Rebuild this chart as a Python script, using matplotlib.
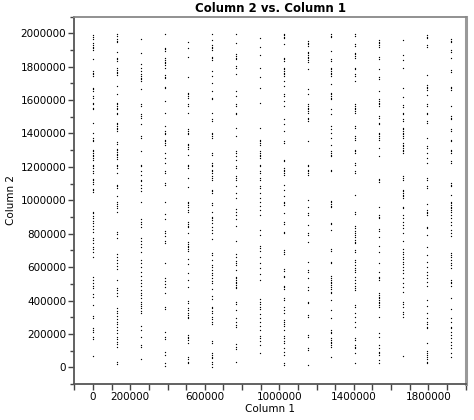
import matplotlib
matplotlib.use("Agg")
import matplotlib.pyplot as plt
from matplotlib.ticker import MultipleLocator, FixedLocator
import numpy as np

# x position of each vertical column of points
col_x = [0, 128000, 256000, 384000, 512000, 640000, 768000, 896000,
         1024000, 1152000, 1280000, 1408000, 1536000, 1664000, 1792000, 1920000]

# y values per column, in thousands
y_c1 = [1990, 1978, 1966, 1940, 1930, 1920, 1910, 1900, 1844, 1774, 1764, 1754, 1744, 1674, 1664, 1654,
        1624, 1614, 1584, 1574, 1554, 1544, 1464, 1404, 1374, 1364, 1354, 1304, 1294, 1284, 1274, 1264,
        1254, 1244, 1214, 1204, 1194, 1174, 1164, 1130, 1120, 1110, 1100, 1070, 1060, 1050, 932, 922,
        908, 892, 876, 862, 846, 831, 812, 776, 762, 746, 722, 708, 692, 659, 542, 523, 507, 487, 473,
        437, 423, 373, 307, 293, 237, 224, 210, 183, 168, 69]
y_c2 = [1994, 1982, 1966, 1956, 1946, 1890, 1854, 1844, 1834, 1790, 1780, 1770, 1760, 1750, 1684, 1634,
        1584, 1574, 1564, 1554, 1544, 1524, 1514, 1464, 1454, 1444, 1434, 1424, 1414, 1350, 1340, 1310,
        1300, 1290, 1280, 1270, 1260, 1250, 1214, 1204, 1194, 1164, 1094, 1084, 1074, 1024, 992, 978,
        966, 953, 927, 810, 798, 774, 677, 663, 643, 627, 609, 590, 524, 474, 460, 444, 424, 354, 340,
        324, 308, 288, 274, 260, 243, 224, 204, 183, 168, 154, 139, 123, 34, 20]
y_c3 = [1966, 1884, 1814, 1794, 1774, 1754, 1744, 1734, 1724, 1714, 1664, 1574, 1564, 1514, 1504, 1494,
        1454, 1384, 1374, 1294, 1214, 1204, 1174, 1154, 1124, 1114, 1094, 1074, 1054, 992, 888, 872,
        858, 838, 772, 756, 738, 722, 692, 643, 623, 603, 573, 547, 523, 503, 487, 463, 447, 433, 413,
        393, 379, 367, 353, 339, 324, 247, 224, 183, 134, 120, 48]
y_c4 = [1996, 1914, 1904, 1894, 1850, 1840, 1830, 1820, 1810, 1790, 1750, 1740, 1730, 1680, 1670, 1594,
        1524, 1444, 1414, 1404, 1394, 1364, 1354, 1344, 1334, 1284, 1254, 1224, 1174, 1164, 1104, 1094,
        988, 918, 888, 818, 802, 788, 758, 742, 623, 533, 517, 499, 479, 447, 363, 347, 213, 183, 168,
        93, 74, 24, 10]
y_c5 = [1950, 1914, 1860, 1740, 1644, 1634, 1624, 1614, 1574, 1564, 1524, 1424, 1414, 1404, 1394, 1340,
        1330, 1320, 1310, 1270, 1214, 1204, 1194, 1134, 1080, 992, 982, 972, 962, 942, 932, 868, 858,
        848, 838, 802, 748, 738, 728, 718, 708, 698, 648, 618, 566, 523, 479, 397, 387, 353, 343, 323,
        313, 303, 293, 193, 183, 174, 164, 144, 60, 50, 34, 24]
y_c6 = [1994, 1960, 1930, 1920, 1910, 1900, 1860, 1850, 1840, 1774, 1744, 1704, 1654, 1614, 1604, 1524,
        1484, 1474, 1404, 1394, 1384, 1374, 1284, 1274, 1224, 1214, 1204, 1184, 1174, 1164, 1144, 1134,
        1124, 1064, 1054, 1044, 982, 972, 932, 902, 892, 882, 862, 842, 822, 802, 766, 683, 673, 643,
        613, 603, 583, 566, 553, 533, 518, 506, 467, 427, 407, 363, 353, 337, 323, 303, 287, 273, 259,
        159, 144, 88, 74, 64, 54, 34, 20, 4]
y_c7 = [1994, 1944, 1874, 1864, 1854, 1844, 1804, 1794, 1754, 1654, 1624, 1574, 1564, 1524, 1514, 1434,
        1384, 1294, 1284, 1264, 1244, 1204, 1194, 1144, 1134, 1124, 1084, 1044, 1014, 946, 932, 912,
        888, 848, 758, 678, 663, 639, 627, 613, 583, 543, 533, 523, 513, 503, 493, 483, 473, 393, 379,
        343, 293, 273, 253, 240, 140, 123, 108, 34]
y_c8 = [1970, 1920, 1870, 1790, 1740, 1670, 1584, 1434, 1364, 1354, 1344, 1334, 1294, 1284, 1274, 1264,
        1254, 1214, 1204, 1174, 1164, 1134, 1124, 1084, 1074, 1044, 1014, 992, 966, 942, 912, 822, 793,
        726, 712, 698, 659, 623, 593, 559, 523, 407, 393, 379, 363, 347, 319, 293, 273, 247, 223, 187,
        174, 159, 134, 84]
y_c9 = [1998, 1988, 1980, 1970, 1934, 1854, 1844, 1834, 1794, 1784, 1774, 1764, 1754, 1744, 1714, 1684,
        1634, 1624, 1594, 1564, 1484, 1454, 1414, 1354, 1344, 1244, 1234, 1194, 1184, 1174, 1164, 1154,
        1094, 1064, 1024, 992, 982, 972, 922, 872, 858, 812, 802, 702, 692, 679, 587, 579, 547, 539,
        487, 479, 467, 413, 403, 363, 343, 327, 283, 273, 259, 247, 223, 187, 174, 159, 144, 114, 93,
        74, 28, 14]
y_c10 = [1954, 1944, 1934, 1924, 1890, 1880, 1870, 1860, 1850, 1840, 1830, 1784, 1664, 1634, 1574, 1564,
         1554, 1544, 1534, 1524, 1494, 1484, 1474, 1354, 1214, 1204, 1184, 1174, 1164, 1154, 1002, 958,
         922, 912, 852, 802, 792, 752, 632, 583, 573, 533, 483, 463, 393, 383, 313, 303, 193, 183, 114,
         104, 14]
y_c11 = [1996, 1986, 1976, 1894, 1844, 1834, 1794, 1784, 1774, 1764, 1754, 1744, 1694, 1644, 1634, 1624,
         1614, 1604, 1544, 1514, 1444, 1424, 1404, 1374, 1334, 1294, 1284, 1274, 1264, 1184, 1174, 998,
         988, 978, 968, 958, 866, 856, 822, 707, 696, 632, 623, 547, 537, 523, 513, 503, 493, 479, 467,
         453, 443, 403, 343, 293, 224, 214, 204, 174, 164, 154, 144, 134, 123, 60]
y_c12 = [1994, 1984, 1934, 1924, 1884, 1874, 1864, 1854, 1794, 1784, 1754, 1744, 1714, 1574, 1564, 1554,
         1544, 1534, 1524, 1444, 1434, 1384, 1374, 1364, 1304, 1294, 1284, 1224, 1214, 1174, 1164, 1034,
         932, 918, 846, 832, 818, 802, 792, 782, 762, 752, 742, 702, 692, 643, 633, 613, 593, 583, 573,
         543, 523, 503, 487, 473, 463, 373, 359, 327, 303, 273, 243, 174, 164, 134, 123, 114, 84, 24]
y_c13 = [1960, 1950, 1940, 1930, 1920, 1856, 1846, 1786, 1736, 1726, 1654, 1604, 1594, 1584, 1574, 1564,
         1504, 1494, 1464, 1454, 1404, 1394, 1384, 1374, 1364, 1314, 1264, 1130, 1120, 1110, 962, 912,
         902, 892, 826, 816, 782, 726, 692, 627, 573, 543, 533, 523, 443, 433, 423, 413, 403, 393, 383,
         373, 363, 303, 204, 180, 134, 114, 93, 84, 74, 44, 24]
y_c14 = [1960, 1870, 1840, 1790, 1670, 1620, 1570, 1560, 1524, 1514, 1484, 1474, 1434, 1424, 1414, 1404,
         1394, 1384, 1374, 1344, 1334, 1324, 1314, 1304, 1294, 1284, 1144, 1134, 1124, 1064, 1054, 1044,
         1034, 1024, 1014, 962, 952, 912, 892, 872, 852, 832, 802, 758, 707, 692, 679, 663, 647, 632,
         619, 603, 583, 563, 533, 507, 479, 453, 393, 379, 363, 333, 319, 303, 68]
y_c15 = [1990, 1980, 1970, 1930, 1920, 1750, 1690, 1680, 1670, 1660, 1630, 1574, 1564, 1524, 1514, 1474,
         1464, 1374, 1324, 1314, 1284, 1254, 1224, 1134, 1124, 1084, 1074, 978, 942, 932, 922, 912, 842,
         832, 793, 722, 673, 632, 603, 573, 553, 533, 513, 487, 403, 367, 323, 293, 273, 259, 243, 233,
         147, 99, 87, 74, 60, 48, 34, 24]
y_c16 = [1966, 1956, 1946, 1900, 1890, 1850, 1780, 1770, 1680, 1670, 1660, 1564, 1504, 1494, 1484, 1424,
         1414, 1364, 1354, 1304, 1294, 1284, 1234, 1224, 1104, 1094, 1084, 1034, 992, 982, 972, 962, 952,
         942, 932, 912, 892, 872, 852, 822, 802, 786, 686, 673, 659, 643, 627, 613, 593, 523, 513, 503,
         487, 413, 347, 293, 273, 243, 233, 213, 193, 174, 154, 134, 114, 87, 63]

columns = [y_c1, y_c2, y_c3, y_c4, y_c5, y_c6, y_c7, y_c8,
           y_c9, y_c10, y_c11, y_c12, y_c13, y_c14, y_c15, y_c16]

x_labels = [0, 200000, 600000, 1000000, 1400000, 1800000]

fig = plt.figure(figsize=(4.74, 4.2), dpi=100)
ax = fig.add_axes([0.157, 0.0857, 0.8253, 0.8748])

for cx, ys in zip(col_x, columns):
    ys = np.array(ys) * 1000
    ax.scatter(np.full(len(ys), cx), ys, s=0.9, c="black", marker="o", linewidths=0)

ax.set_xlim(-100000, 2000000)
ax.set_ylim(-100000, 2100000)

ax.xaxis.set_major_locator(FixedLocator(x_labels))
ax.xaxis.set_minor_locator(MultipleLocator(100000))
ax.yaxis.set_major_locator(MultipleLocator(200000))
ax.yaxis.set_minor_locator(MultipleLocator(100000))
ax.ticklabel_format(style="plain", useOffset=False)

ax.tick_params(axis="both", which="major", direction="out", length=4, width=1,
               labelsize=7.5, color="#444444", pad=2)
ax.tick_params(axis="both", which="minor", direction="out", length=4, width=1, color="#444444")
ax.tick_params(axis="y", which="minor", length=3)

for side in ["left", "bottom"]:
    ax.spines[side].set_color("#555555")
    ax.spines[side].set_linewidth(1.3)
ax.spines["top"].set_color("#888888")
ax.spines["top"].set_linewidth(1.3)
ax.spines["right"].set_color("#999999")
ax.spines["right"].set_linewidth(2.2)

ax.set_xlabel("Column 1", fontsize=7.5, labelpad=1)
ax.set_ylabel("Column 2", fontsize=7.5, labelpad=3)
ax.set_title("Column 2 vs. Column 1", fontsize=8.5, fontweight="bold", pad=3)

fig.savefig("out.png", dpi=100)
